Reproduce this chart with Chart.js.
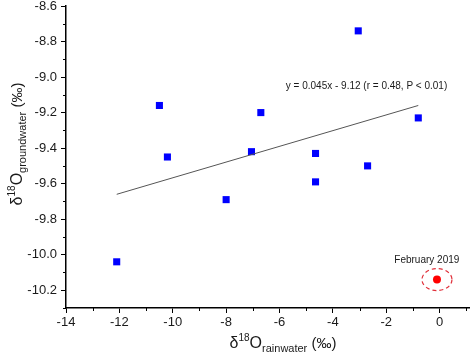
<!DOCTYPE html>
<html>
<head>
<meta charset="utf-8">
<script src="https://cdn.jsdelivr.net/npm/chart.js@4/dist/chart.umd.min.js"></script>
<style>
  html, body { margin: 0; padding: 0; background: #fff; }
  #wrap { width: 474px; height: 360px; }
</style>
</head>
<body>
<div id="wrap"><canvas id="c"></canvas></div>
<script>
  // values
  const rainX = [-12.1, -10.5, -10.2, -8.0, -7.05, -6.7, -4.65, -4.65, -2.7, -3.05, -0.8];
  const groundY = [-10.04, -9.16, -9.45, -9.69, -9.42, -9.2, -9.43, -9.59, -9.5, -8.74, -9.23];
  const febX = [-0.1];
  const febY = [-10.14];
  const fitX = [-12.1, -0.8];
  const fitY = [-9.66, -9.16];

  const xTicks = [-14, -12, -10, -8, -6, -4, -2, 0];
  const yTicks = [-10.2, -10.0, -9.8, -9.6, -9.4, -9.2, -9.0, -8.8, -8.6];
  const xMinor = [-13, -11, -9, -7, -5, -3, -1, 1];
  const yMinor = [-10.3, -10.1, -9.9, -9.7, -9.5, -9.3, -9.1, -8.9, -8.7];

  const fitLabel = "y = 0.045x - 9.12 (r = 0.48, P < 0.01)";
  const febLabel = "February 2019";

  const FONT = "'Liberation Sans', Arial, sans-serif";
  const INK = "#1a1a1a";

  const pts = (xs, ys) => xs.map((x, i) => ({ x, y: ys[i] }));

  // draw text made of pieces with sizes / baseline shifts (super/subscripts)
  function drawRich(ctx, parts, cx, cy, rot) {
    ctx.save();
    ctx.translate(cx, cy);
    ctx.rotate(rot || 0);
    ctx.textBaseline = "alphabetic";
    ctx.textAlign = "left";
    let total = 0;
    parts.forEach((p) => {
      ctx.font = `${p.s}px ${FONT}`;
      p.w = ctx.measureText(p.t).width;
      total += p.w;
    });
    let x = -total / 2;
    parts.forEach((p) => {
      ctx.font = `${p.s}px ${FONT}`;
      ctx.fillStyle = INK;
      ctx.fillText(p.t, x, 6 + (p.dy || 0));
      x += p.w;
    });
    ctx.restore();
  }

  const extras = {
    id: "extras",
    afterDraw(chart) {
      const { ctx, scales } = chart;
      const sx = scales.x, sy = scales.y;
      const area = chart.chartArea;

      // minor ticks
      ctx.save();
      ctx.strokeStyle = "#000";
      ctx.lineWidth = 1;
      ctx.beginPath();
      xMinor.forEach((v) => {
        const px = Math.round(sx.getPixelForValue(v)) + 0.5;
        ctx.moveTo(px, area.bottom);
        ctx.lineTo(px, area.bottom + 3);
      });
      yMinor.forEach((v) => {
        const py = Math.round(sy.getPixelForValue(v)) + 0.5;
        ctx.moveTo(area.left, py);
        ctx.lineTo(area.left - 3, py);
      });
      ctx.stroke();

      // dashed ellipse round the February point
      const ex = sx.getPixelForValue(febX[0]);
      const ey = sy.getPixelForValue(febY[0]);
      ctx.strokeStyle = "#e0303a";
      ctx.lineWidth = 1.2;
      ctx.setLineDash([4, 3]);
      ctx.beginPath();
      ctx.ellipse(ex, ey, 15, 11, 0, 0, Math.PI * 2);
      ctx.stroke();
      ctx.setLineDash([]);

      // annotations
      ctx.fillStyle = INK;
      ctx.font = `10px ${FONT}`;
      ctx.textAlign = "center";
      ctx.textBaseline = "middle";
      ctx.fillText(fitLabel, sx.getPixelForValue(-2.74), sy.getPixelForValue(-9.05));
      ctx.fillText(febLabel, sx.getPixelForValue(-0.48), sy.getPixelForValue(-10.03));
      ctx.restore();

      // axis titles
      drawRich(ctx, [
        { t: "δ", s: 16 },
        { t: "18", s: 10, dy: -7 },
        { t: "O", s: 16 },
        { t: "rainwater", s: 11, dy: 4 },
        { t: " (‰)", s: 15 }
      ], 283, 342, 0);
      drawRich(ctx, [
        { t: "δ", s: 16 },
        { t: "18", s: 10, dy: -7 },
        { t: "O", s: 16 },
        { t: "groundwater", s: 11, dy: 4 },
        { t: " (‰)", s: 15 }
      ], 16, 144, -Math.PI / 2);
    }
  };

  const tickFont = { family: FONT, size: 13 };

  new Chart(document.getElementById("c"), {
    type: "scatter",
    data: {
      datasets: [
        {
          type: "line",
          data: pts(fitX, fitY),
          borderColor: "#555",
          borderWidth: 1,
          pointRadius: 0,
          fill: false
        },
        {
          data: pts(rainX, groundY),
          pointStyle: "rect",
          pointRadius: 5,
          backgroundColor: "#0000ff",
          borderWidth: 0
        },
        {
          data: pts(febX, febY),
          pointStyle: "circle",
          pointRadius: 4,
          backgroundColor: "#ff0000",
          borderWidth: 0
        }
      ]
    },
    options: {
      responsive: true,
      maintainAspectRatio: false,
      animation: false,
      layout: { padding: { top: 6, right: 0, bottom: 0, left: 0 } },
      plugins: { legend: { display: false }, tooltip: { enabled: false } },
      scales: {
        x: {
          type: "linear",
          min: -14,
          max: 1.1,
          afterBuildTicks: (s) => { s.ticks = xTicks.map((v) => ({ value: v })); },
          afterFit: (s) => { s.height = 52; s.paddingLeft = 0; s.paddingRight = 0; },
          ticks: { font: tickFont, color: INK, padding: 2, maxRotation: 0, callback: (v) => String(v) },
          grid: { drawOnChartArea: false, tickLength: 5, color: "#000", tickWidth: 1 },
          border: { color: "#000", width: 1.5 }
        },
        y: {
          type: "linear",
          min: -10.3,
          max: -8.6,
          afterBuildTicks: (s) => { s.ticks = yTicks.map((v) => ({ value: v })); },
          afterFit: (s) => { s.width = 66; s.paddingTop = 0; s.paddingBottom = 0; },
          ticks: { font: tickFont, color: INK, padding: 4, callback: (v) => Number(v).toFixed(1) },
          grid: { drawOnChartArea: false, tickLength: 5, color: "#000", tickWidth: 1 },
          border: { color: "#000", width: 1.5 }
        }
      }
    },
    plugins: [extras]
  });
</script>
</body>
</html>
